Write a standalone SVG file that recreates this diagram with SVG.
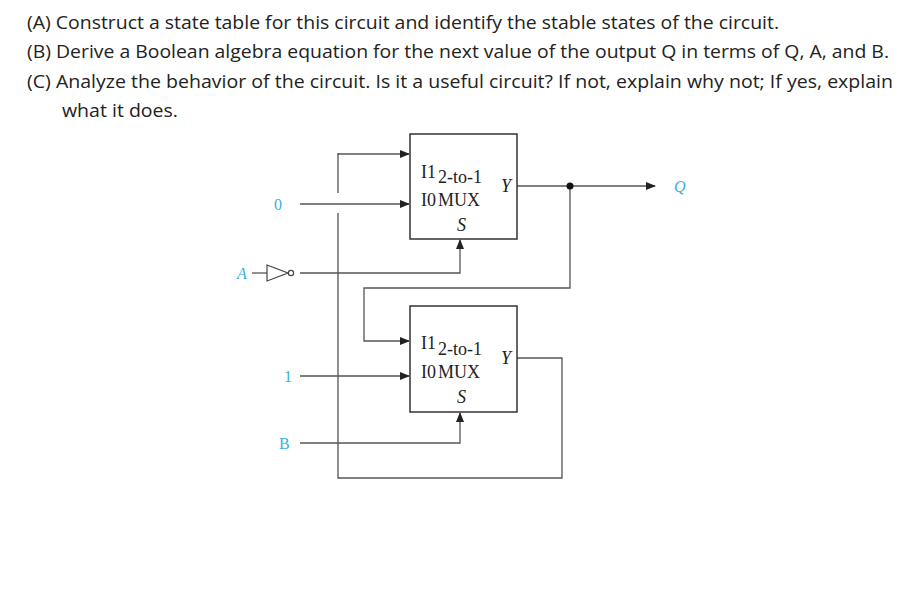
<svg xmlns="http://www.w3.org/2000/svg" width="909" height="607" viewBox="0 0 909 607">
<style>
.h{font-family:"Open Sans","Liberation Sans",sans-serif;font-size:17.5px;fill:#222}
.w{fill:none;stroke:#555;stroke-width:1.3}
.b{fill:#fff;stroke:#333;stroke-width:1.5}
.m{font-family:"Liberation Serif",serif;font-size:18px;fill:#222}
.c{font-family:"Liberation Serif",serif;font-size:16px;fill:#3ab0dc}
</style>
<defs><marker id="a" markerWidth="10" markerHeight="8" refX="9" refY="4" orient="auto" markerUnits="userSpaceOnUse"><path d="M0,0L10,4L0,8z" fill="#222"/></marker></defs>
<rect width="909" height="607" fill="#fff"/>
<g id="text">
<text class="h" x="27" y="29" textLength="752" lengthAdjust="spacingAndGlyphs">(A) Construct a state table for this circuit and identify the stable states of the circuit.</text>
<text class="h" x="27" y="58" textLength="862" lengthAdjust="spacingAndGlyphs">(B) Derive a Boolean algebra equation for the next value of the output Q in terms of Q, A, and B.</text>
<text class="h" x="27" y="88" textLength="866" lengthAdjust="spacingAndGlyphs">(C) Analyze the behavior of the circuit. Is it a useful circuit? If not, explain why not; If yes, explain</text>
<text class="h" x="62" y="117" textLength="116" lengthAdjust="spacingAndGlyphs">what it does.</text>
</g>
<g id="connectors">
<path class="w" d="M338,153V193M338,213V478H562V358H517"/>
<path class="w" d="M338,154H409" marker-end="url(#a)"/>
<path class="w" d="M300,204H409" marker-end="url(#a)"/>
<path class="w" d="M300,273H460V240" marker-end="url(#a)"/>
<path class="w" d="M517,186H655" marker-end="url(#a)"/>
<path class="w" d="M570,186V288H364V341H409" marker-end="url(#a)"/>
<path class="w" d="M300,376H409" marker-end="url(#a)"/>
<path class="w" d="M300,443H460V413" marker-end="url(#a)"/>
<path class="w" d="M252,273H267"/>
<circle cx="570" cy="186" r="3.5" fill="#111"/>
</g>
<g id="inv"><path d="M267,265L288,273L267,281z" fill="#fff" stroke="#444" stroke-width="1.2"/><circle cx="291" cy="273" r="2.6" fill="#fff" stroke="#444" stroke-width="1.2"/></g>
<g id="mux1"><rect class="b" x="410" y="134" width="107" height="105"/>
<text class="m" x="421" y="178">I1</text><text class="m" x="438" y="183" font-size="16">2-to-1</text>
<text class="m" x="421" y="206">I0</text><text class="m" x="438" y="206">MUX</text>
<text class="m" x="457" y="231" font-style="italic">S</text><text class="m" x="501" y="192" font-style="italic">Y</text></g>
<g id="mux2"><rect class="b" x="410" y="306" width="107" height="106"/>
<text class="m" x="421" y="349">I1</text><text class="m" x="438" y="355" font-size="16">2-to-1</text>
<text class="m" x="421" y="378">I0</text><text class="m" x="438" y="378">MUX</text>
<text class="m" x="457" y="403" font-style="italic">S</text><text class="m" x="501" y="364" font-style="italic">Y</text></g>
<g id="labels">
<text class="c" x="274" y="210">0</text>
<text class="c" x="237" y="279" font-style="italic">A</text>
<text class="c" x="284" y="382">1</text>
<text class="c" x="279" y="449">B</text>
<text class="c" x="674" y="192" font-style="italic">Q</text>
</g>
</svg>
